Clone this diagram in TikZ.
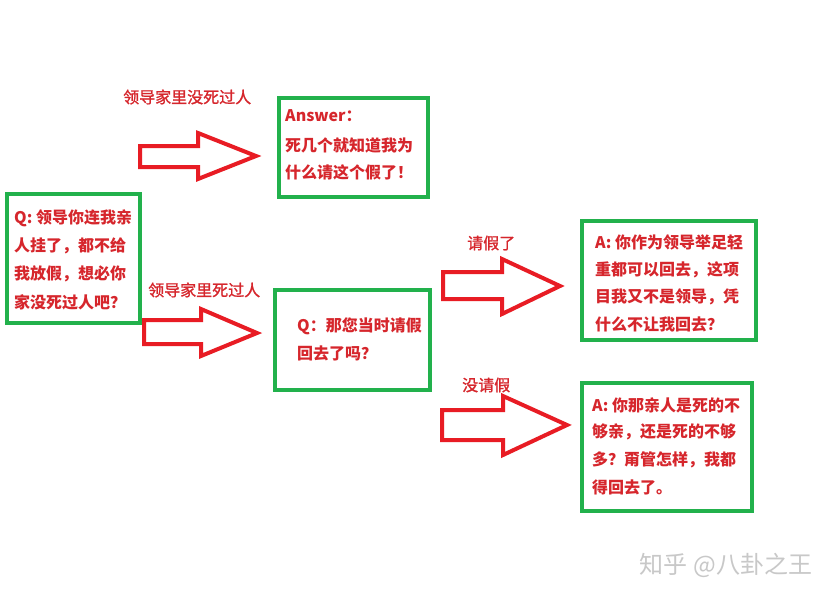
\documentclass[tikz,border=0pt]{standalone}
\usepackage{fontspec}
\newfontfamily\cjk{Noto Sans CJK SC}
\newfontfamily\cjkm[FakeBold=1.2]{Noto Sans CJK SC}
\definecolor{boxgreen}{RGB}{34,177,76}
\definecolor{arrowred}{RGB}{232,28,36}
\definecolor{textred}{RGB}{214,38,44}
\definecolor{markgray}{RGB}{200,200,200}
\begin{document}
\begin{tikzpicture}[x=1pt,y=-1pt,
  gbox/.style={draw=boxgreen, line width=4pt, inner sep=0pt},
  txt/.style={anchor=west, inner sep=0pt, text=textred, font=\cjk\bfseries\fontsize{16}{19}\selectfont},
  lbl/.style={anchor=west, inner sep=0pt, text=textred, font=\cjkm\fontsize{16}{19}\selectfont},
  barrow/.style={draw=arrowred, line width=4pt, line join=miter, miter limit=20},
  wmark/.style={inner sep=0pt, text=markgray, font=\cjk\fontsize{24}{28}\selectfont}]
\useasboundingbox[fill=white] (0,0) rectangle (837,598);

% boxes
\node[gbox, minimum width=149pt, minimum height=99pt] (ans) at (353.5,147.5) {};
\node[gbox, minimum width=133pt, minimum height=129pt] (q1) at (73.5,258.5) {};
\node[gbox, minimum width=155pt, minimum height=100pt] (q2) at (352.5,340) {};
\node[gbox, minimum width=174pt, minimum height=119pt] (a1) at (669,280.5) {};
\node[gbox, minimum width=170pt, minimum height=128pt] (a2) at (667,447) {};

% block arrows
\draw[barrow] (140,146) -- (198,146) -- (198,133) -- (256,156) -- (198,179) -- (198,167) -- (140,167) -- cycle;
\draw[barrow] (144,320) -- (201,320) -- (201,309) -- (257,333) -- (201,356) -- (201,344) -- (144,344) -- cycle;
\draw[barrow] (443,272) -- (502,272) -- (502,259) -- (560,286) -- (502,314) -- (502,299) -- (443,299) -- cycle;
\draw[barrow] (442,410) -- (503,410) -- (503,396) -- (567,425) -- (503,455) -- (503,440) -- (442,440) -- cycle;

% labels
\node[lbl] (l1) at (123,97) {领导家里没死过人};
\node[lbl] (l2) at (148,290) {领导家里死过人};
\node[lbl] (l3) at (467,243) {请假了};
\node[lbl] (l4) at (462,385) {没请假};

% answer box text
\node[txt] (ans1) at (285,116) {Answer：};
\node[txt] (ans2) at (285,145) {死几个就知道我为};
\node[txt] (ans3) at (285,172) {什么请这个假了！};

% q1 text
\node[txt] (q1a) at (14,218) {Q: 领导你连我亲};
\node[txt] (q1b) at (14,246) {人挂了，都不给};
\node[txt] (q1c) at (14,274) {我放假，想必你};
\node[txt] (q1d) at (14,302) {家没死过人吧？};

% q2 text
\node[txt] (q2a) at (297,326) {Q：那您当时请假};
\node[txt] (q2b) at (297,353) {回去了吗？};

% a1 text
\node[txt] (a1a) at (595,242) {A: 你作为领导举足轻};
\node[txt] (a1b) at (595,270) {重都可以回去，这项};
\node[txt] (a1c) at (595,297) {目我又不是领导，凭};
\node[txt] (a1d) at (595,324) {什么不让我回去？};

% a2 text
\node[txt] (a2a) at (592,405) {A: 你那亲人是死的不};
\node[txt] (a2b) at (592,432) {够亲，还是死的不够};
\node[txt] (a2c) at (592,460) {多？甭管怎样，我都};
\node[txt] (a2d) at (592,487) {得回去了。};

% watermark
\node[wmark] (wm) at (726,565) {知乎 @八卦之王};
\end{tikzpicture}
\end{document}
